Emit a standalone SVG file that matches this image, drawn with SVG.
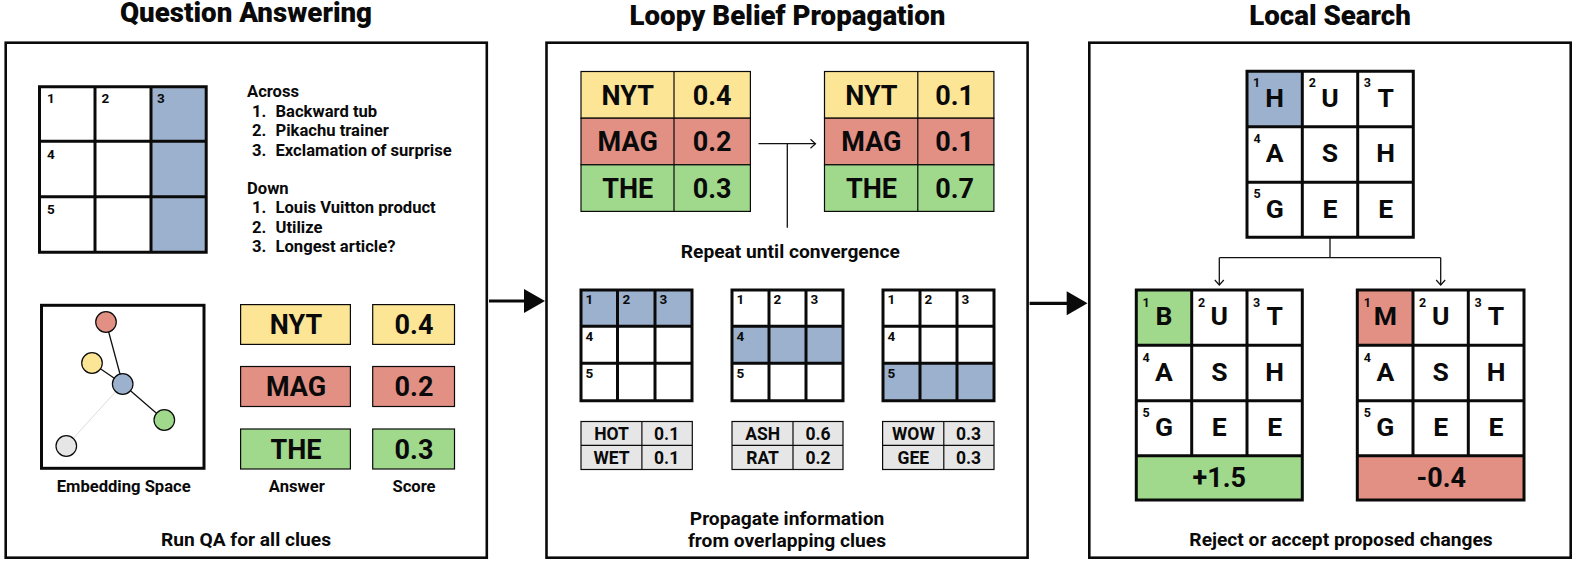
<svg xmlns="http://www.w3.org/2000/svg" width="1575" height="564" viewBox="0 0 1575 564">
<defs>
<style>
text{font-family:Roboto,"Liberation Sans",sans-serif;fill:#0a0a0a;font-weight:700}
.m{text-anchor:middle}
.title{font-size:27.7px;font-weight:900;text-anchor:middle}
.cap{font-size:19.2px;font-weight:700;text-anchor:middle}
.sub{font-size:16.6px;font-weight:700;text-anchor:middle}
.clue{font-size:16.6px;font-weight:700}
.big{font-size:27px;font-weight:700;text-anchor:middle}
.mid{font-size:17.5px;font-weight:700;text-anchor:middle}
.num{font-size:13.5px;font-weight:700}
.let{font-size:26.5px;font-weight:700;text-anchor:middle}
.sup{font-size:12.5px;font-weight:700;text-anchor:middle}
.panel{fill:#fff;stroke:#0a0a0a;stroke-width:2.6}
.grid{fill:none;stroke:#0a0a0a;stroke-width:3}
.thin{fill:none;stroke:#0a0a0a;stroke-width:1.2}
.tb{stroke:#0a0a0a;stroke-width:1.2}
.y{fill:#FDE596}.r{fill:#E29084}.g{fill:#A0D98C}.b{fill:#9CB1CD}.e{fill:#E6E6E6}
.c{stroke:#0a0a0a;stroke-width:1.2}
.edge{fill:none;stroke:#111;stroke-width:1.3}
.heavy{fill:none;stroke:#0a0a0a;stroke-width:3.2}
</style>
<marker id="open" markerUnits="userSpaceOnUse" markerWidth="10" markerHeight="12" refX="8" refY="6" orient="auto"><path d="M3 1.5L8 6L3 10.5" fill="none" stroke="#111" stroke-width="1.2"/></marker>
</defs>
<rect width="1575" height="564" fill="#fff"/>
<g id="panel-qa">
<rect class="panel" x="5.7" y="42.7" width="481.1" height="515"/>
<text class="title" x="246" y="22">Question Answering</text>
<text class="cap" x="246" y="545.7">Run QA for all clues</text>
</g>
<g id="panel-lbp">
<rect class="panel" x="546.5" y="42.7" width="481.1" height="515"/>
<text class="title" x="787.5" y="24.5">Loopy Belief Propagation</text>
<text class="cap" x="790.3" y="257.7">Repeat until convergence</text>
<text class="cap" x="787" y="525.3">Propagate information</text>
<text class="cap" x="787" y="547">from overlapping clues</text>
</g>
<g id="panel-ls">
<rect class="panel" x="1089.3" y="42.7" width="481.4" height="515"/>
<text class="title" x="1330" y="24.5">Local Search</text>
<text class="cap" x="1341" y="545.7">Reject or accept proposed changes</text>
</g>
<g id="connectors">
<path class="heavy" d="M489 301H526"/>
<path d="M524 289L545 301L524 313Z" fill="#0a0a0a"/>
<path class="heavy" d="M1029.6 303.3H1068"/>
<path d="M1066.7 291.3L1087.5 303.3L1066.7 315.3Z" fill="#0a0a0a"/>
<path class="edge" d="M758.5 143.7H815.5" marker-end="url(#open)"/>
<path class="edge" d="M787.3 143.7V227.7"/>
<path class="edge" d="M1330 237.3V257.7"/>
<path class="edge" d="M1219.3 257.7H1440.7"/>
<path class="edge" d="M1219.3 257.7V285" marker-end="url(#open)"/>
<path class="edge" d="M1440.7 257.7V285" marker-end="url(#open)"/>
</g>
<g id="crossword-main">
<rect class="b" x="151" y="86.7" width="55.2" height="165.6"/>
<path class="grid" d="M39.5 86.7H206.2V252.3H39.5ZM95 86.7V252.3M151 86.7V252.3M39.5 141.3H206.2M39.5 196.7H206.2"/>
<text class="num" x="47" y="103.3">1</text><text class="num" x="101.5" y="103.3">2</text><text class="num" x="157" y="103.3">3</text>
<text class="num" x="47" y="158.7">4</text><text class="num" x="47" y="214">5</text>
</g>
<g id="clues">
<text class="clue" x="247" y="97.3">Across</text>
<text class="clue" x="252" y="117">1.</text><text class="clue" x="275.5" y="117">Backward tub</text>
<text class="clue" x="252" y="136.3">2.</text><text class="clue" x="275.5" y="136.3">Pikachu trainer</text>
<text class="clue" x="252" y="155.7">3.</text><text class="clue" x="275.5" y="155.7">Exclamation of surprise</text>
<text class="clue" x="247" y="194.3">Down</text>
<text class="clue" x="252" y="213.3">1.</text><text class="clue" x="275.5" y="213.3">Louis Vuitton product</text>
<text class="clue" x="252" y="233">2.</text><text class="clue" x="275.5" y="233">Utilize</text>
<text class="clue" x="252" y="252.3">3.</text><text class="clue" x="275.5" y="252.3">Longest article?</text>
</g>
<g id="embedding-space">
<rect x="41.5" y="305.3" width="162.5" height="163" fill="#fff" stroke="#0a0a0a" stroke-width="3"/>
<path d="M122.7 384L66.3 446" stroke="#ddd" stroke-width="1" fill="none"/>
<path d="M106 322L122.7 384M92 363L122.7 384L164.3 420" stroke="#111" stroke-width="1.3" fill="none"/>
<circle class="r c" cx="106" cy="322" r="10.3"/>
<circle class="y c" cx="92" cy="363" r="10.3"/>
<circle class="b c" cx="122.7" cy="384" r="10.3"/>
<circle class="g c" cx="164.3" cy="420" r="10.3"/>
<circle class="e c" cx="66.3" cy="446" r="10.3"/>
<text class="sub" x="123.7" y="492">Embedding Space</text>
</g>
<g id="answers">
<rect class="y tb" x="240.6" y="304.6" width="109.8" height="39.8"/><text class="big" x="296" y="334">NYT</text>
<rect class="y tb" x="372.7" y="304.6" width="81.8" height="39.8"/><text class="big" x="414" y="334">0.4</text>
<rect class="r tb" x="240.6" y="366.5" width="109.8" height="40"/><text class="big" x="296" y="396.3">MAG</text>
<rect class="r tb" x="372.7" y="366.5" width="81.8" height="40"/><text class="big" x="414" y="396.3">0.2</text>
<rect class="g tb" x="240.6" y="429" width="109.8" height="40"/><text class="big" x="296" y="458.7">THE</text>
<rect class="g tb" x="372.7" y="429" width="81.8" height="40"/><text class="big" x="414" y="458.7">0.3</text>
<text class="sub" x="296.8" y="492">Answer</text>
<text class="sub" x="414" y="492">Score</text>
</g>
<g id="table-before">
<rect class="y tb" x="581" y="71.5" width="169.4" height="46.7"/><rect class="r tb" x="581" y="118.2" width="169.4" height="46.6"/><rect class="g tb" x="581" y="164.8" width="169.4" height="46.6"/>
<path class="tb" d="M674 71.5V211.4"/>
<text class="big" x="627.7" y="104.7">NYT</text><text class="big" x="712.2" y="104.7">0.4</text>
<text class="big" x="627.7" y="151.3">MAG</text><text class="big" x="712.2" y="151.3">0.2</text>
<text class="big" x="627.7" y="197.7">THE</text><text class="big" x="712.2" y="197.7">0.3</text>
</g>
<g id="table-after">
<rect class="y tb" x="824.5" y="71.5" width="169.4" height="46.7"/><rect class="r tb" x="824.5" y="118.2" width="169.4" height="46.6"/><rect class="g tb" x="824.5" y="164.8" width="169.4" height="46.6"/>
<path class="tb" d="M917.8 71.5V211.4"/>
<text class="big" x="871.4" y="104.7">NYT</text><text class="big" x="954.6" y="104.7">0.1</text>
<text class="big" x="871.4" y="151.3">MAG</text><text class="big" x="954.6" y="151.3">0.1</text>
<text class="big" x="871.4" y="197.7">THE</text><text class="big" x="954.6" y="197.7">0.7</text>
</g>
<g id="grid-row-1">
<rect class="b" x="581" y="290" width="111" height="36.3"/>
<path class="grid" d="M581 290H692V400.7H581ZM617.5 290V400.7M655 290V400.7M581 326.3H692M581 363.3H692"/>
<text class="num" x="585.5" y="304">1</text><text class="num" x="622.5" y="304">2</text><text class="num" x="659.5" y="304">3</text><text class="num" x="585.5" y="341">4</text><text class="num" x="585.5" y="377.7">5</text>
</g>
<g id="grid-row-2">
<rect class="b" x="732" y="326.3" width="111" height="37"/>
<path class="grid" d="M732 290H843V400.7H732ZM769 290V400.7M806 290V400.7M732 326.3H843M732 363.3H843"/>
<text class="num" x="736.5" y="304">1</text><text class="num" x="773.5" y="304">2</text><text class="num" x="810.5" y="304">3</text><text class="num" x="736.5" y="341">4</text><text class="num" x="736.5" y="377.7">5</text>
</g>
<g id="grid-row-3">
<rect class="b" x="883" y="363.3" width="111" height="37.4"/>
<path class="grid" d="M883 290H994V400.7H883ZM920 290V400.7M957 290V400.7M883 326.3H994M883 363.3H994"/>
<text class="num" x="887.5" y="304">1</text><text class="num" x="924.5" y="304">2</text><text class="num" x="961.5" y="304">3</text><text class="num" x="887.5" y="341">4</text><text class="num" x="887.5" y="377.7">5</text>
</g>
<g id="cands-1">
<rect class="e tb" x="581" y="421.5" width="111.3" height="48"/><path class="tb" d="M581 445.3H692.3M641.9 421.5V469.5"/>
<text class="mid" x="611.5" y="439.7">HOT</text><text class="mid" x="666.6" y="439.7">0.1</text><text class="mid" x="611.5" y="463.7">WET</text><text class="mid" x="666.6" y="463.7">0.1</text>
</g>
<g id="cands-2">
<rect class="e tb" x="732" y="421.5" width="111" height="48"/><path class="tb" d="M732 445.3H843M793 421.5V469.5"/>
<text class="mid" x="762.6" y="439.7">ASH</text><text class="mid" x="818" y="439.7">0.6</text><text class="mid" x="762.6" y="463.7">RAT</text><text class="mid" x="818" y="463.7">0.2</text>
</g>
<g id="cands-3">
<rect class="e tb" x="882.6" y="421.5" width="111.4" height="48"/><path class="tb" d="M882.6 445.3H994M943.8 421.5V469.5"/>
<text class="mid" x="913.4" y="439.7">WOW</text><text class="mid" x="968.5" y="439.7">0.3</text><text class="mid" x="913.4" y="463.7">GEE</text><text class="mid" x="968.5" y="463.7">0.3</text>
</g>
<g id="search-top">
<rect class="b" x="1247" y="71.3" width="55.3" height="55.4"/>
<path class="grid" d="M1247 71.3H1413.3V237.3H1247ZM1302.3 71.3V237.3M1357.7 71.3V237.3M1247 126.7H1413.3M1247 182.3H1413.3"/>
<text class="sup" x="1256.7" y="87.3">1</text><text class="sup" x="1312.3" y="87.3">2</text><text class="sup" x="1367.3" y="87.3">3</text><text class="sup" x="1257" y="142.7">4</text><text class="sup" x="1257" y="198.3">5</text>
<text class="let" x="1274.7" y="106.7">H</text><text class="let" x="1330" y="106.7">U</text><text class="let" x="1385.7" y="106.7">T</text>
<text class="let" x="1274.7" y="162.3">A</text><text class="let" x="1330" y="162.3">S</text><text class="let" x="1385.7" y="162.3">H</text>
<text class="let" x="1274.7" y="217.7">G</text><text class="let" x="1330" y="217.7">E</text><text class="let" x="1385.7" y="217.7">E</text>
</g>
<g id="search-accept">
<rect class="g" x="1136.3" y="290" width="55.4" height="55.3"/><rect class="g" x="1136.3" y="455.7" width="166" height="44.3"/>
<path class="grid" d="M1136.3 290H1302.3V500H1136.3ZM1191.7 290V455.7M1247 290V455.7M1136.3 345.3H1302.3M1136.3 400.7H1302.3M1136.3 455.7H1302.3"/>
<text class="sup" x="1146" y="306.7">1</text><text class="sup" x="1201.7" y="306.7">2</text><text class="sup" x="1256.7" y="306.7">3</text><text class="sup" x="1146" y="362">4</text><text class="sup" x="1146" y="417.3">5</text>
<text class="let" x="1164" y="325">B</text><text class="let" x="1219.3" y="325">U</text><text class="let" x="1274.7" y="325">T</text>
<text class="let" x="1164" y="380.7">A</text><text class="let" x="1219.3" y="380.7">S</text><text class="let" x="1274.7" y="380.7">H</text>
<text class="let" x="1164" y="436">G</text><text class="let" x="1219.3" y="436">E</text><text class="let" x="1274.7" y="436">E</text>
<text class="big" x="1219.3" y="487.3">+1.5</text>
</g>
<g id="search-reject">
<rect class="r" x="1357.3" y="290" width="55.7" height="55.3"/><rect class="r" x="1357.3" y="455.7" width="166.7" height="44.3"/>
<path class="grid" d="M1357.3 290H1524V500H1357.3ZM1413 290V455.7M1468.3 290V455.7M1357.3 345.3H1524M1357.3 400.7H1524M1357.3 455.7H1524"/>
<text class="sup" x="1367.3" y="306.7">1</text><text class="sup" x="1422.7" y="306.7">2</text><text class="sup" x="1478" y="306.7">3</text><text class="sup" x="1367.3" y="362">4</text><text class="sup" x="1367.3" y="417.3">5</text>
<text class="let" x="1385.3" y="325">M</text><text class="let" x="1440.7" y="325">U</text><text class="let" x="1496" y="325">T</text>
<text class="let" x="1385.3" y="380.7">A</text><text class="let" x="1440.7" y="380.7">S</text><text class="let" x="1496" y="380.7">H</text>
<text class="let" x="1385.3" y="436">G</text><text class="let" x="1440.7" y="436">E</text><text class="let" x="1496" y="436">E</text>
<text class="big" x="1441.3" y="487.3">-0.4</text>
</g>
</svg>
